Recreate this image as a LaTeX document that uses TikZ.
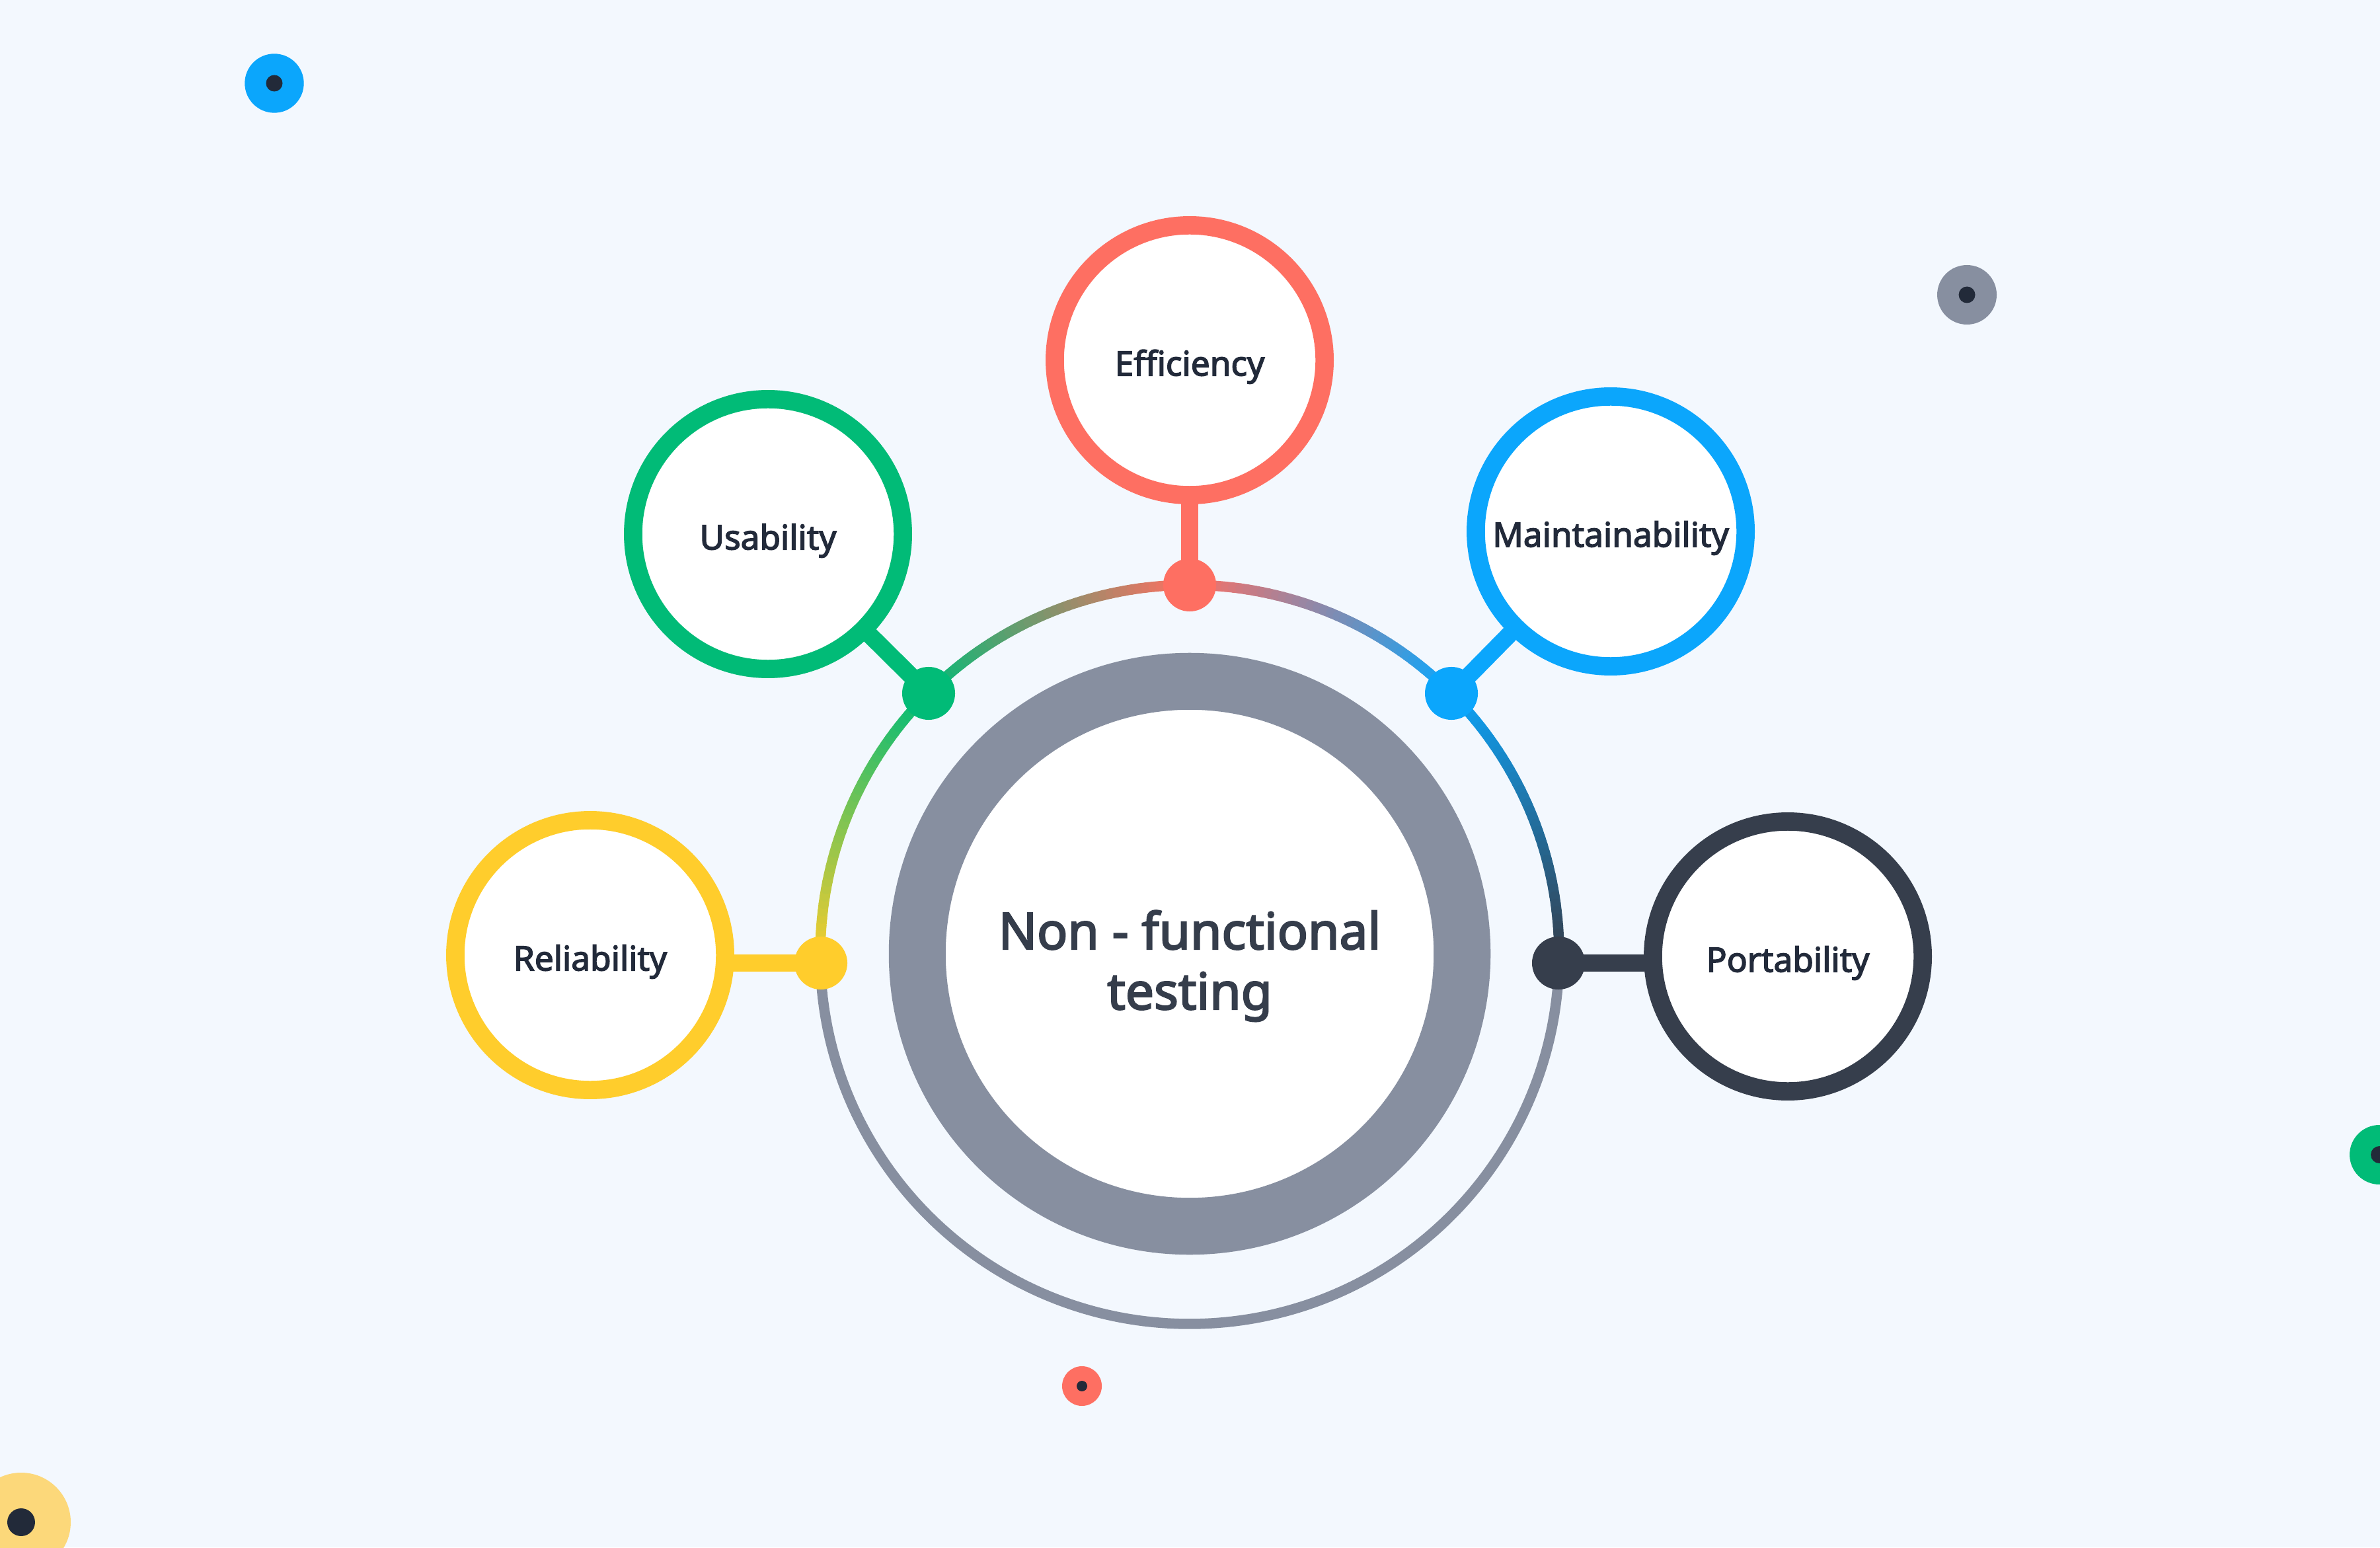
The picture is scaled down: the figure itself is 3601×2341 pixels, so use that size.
\documentclass[tikz,border=0pt]{standalone}
\usepackage{fontspec}
\setmainfont{Noto Sans}
\newfontfamily\labfont{Noto Sans}[FakeBold=2.8]
\newfontfamily\titfont{Noto Sans}[FakeBold=3.0]
\definecolor{bg}{HTML}{F3F8FE}
\definecolor{cgrey}{HTML}{878FA0}
\definecolor{cred}{HTML}{FE6F62}
\definecolor{cblu}{HTML}{0BA6FC}
\definecolor{cgrn}{HTML}{01BB77}
\definecolor{cyel}{HTML}{FFCD2C}
\definecolor{cdark}{HTML}{363E4C}
\definecolor{ctext}{HTML}{222A3A}
\definecolor{ctitle}{HTML}{353D4B}
\definecolor{cpale}{HTML}{FCD87A}
\definecolor{cdot}{HTML}{222A39}
\begin{document}
\begin{tikzpicture}[x=0.01cm,y=0.01cm,
  sat/.style={circle, draw=#1, line width=0.277cm, fill=white, minimum size=4.08cm,
    inner sep=0pt, font=\labfont\fontsize{14.6pt}{17pt}\selectfont, text=ctext,
    text height=0.466cm, text depth=0pt},
  dotn/.style={circle, fill=#1, minimum size=0.8cm, inner sep=0pt},
  conn/.style={line width=0.26cm, draw=#1, shorten >=-0.05cm, shorten <=-0.05cm},
  arcline/.style={line width=0.155cm, line cap=round},
  titletext/.style={font=\titfont\fontsize{21.8pt}{26pt}\selectfont, text=ctitle, anchor=base, inner sep=0pt}
]
\useasboundingbox (0,0) rectangle (3601,2341);
\clip (0,0) rectangle (3601,2341);
\fill[bg] (0,0) rectangle (3601,2341);

% outer arc: grey lower half
\draw[arcline, draw=cgrey] (1800,897) ++(181.4:559) arc[start angle=181.4, end angle=358.6, radius=559];
% outer arc: colour gradient upper half
\foreach \sa/\ea/\ca/\cb in {181.4/135/cyel/cgrn,135/90/cgrn/cred,90/45/cred/cblu,45/-1.4/cblu/cdark}{
  \foreach \i in {1,...,40}{
    \pgfmathsetmacro\aa{\sa+(\ea-\sa)*(\i-1)/40}
    \pgfmathsetmacro\bb{\sa+(\ea-\sa)*\i/40}
    \pgfmathsetmacro\p{100-100*(\i-0.5)/40}
    \draw[arcline, draw=\ca!\p!\cb] (1800,897) ++(\aa:559) arc[start angle=\aa, end angle=\bb, radius=559];
  }
}

% central ring
\node[circle, draw=cgrey, line width=0.86cm, fill=white, minimum size=8.24cm, inner sep=0pt] (main) at (1800,898) {};
\node[titletext] (t1) at (1800,905) {Non - functional};
\node[titletext] (t2) at (1800,814) {testing};

% satellites
\node[sat=cred]  (eff)  at (1800,1796) {Efficiency};
\node[sat=cgrn]  (use)  at (1162,1533) {Usability};
\node[sat=cblu]  (mnt)  at (2437,1537) {Maintainability};
\node[sat=cyel]  (rel)  at (893,896)   {Reliability};
\node[sat=cdark] (por)  at (2705,894)  {Portability};

% dots on the arc
\node[dotn=cred]  (edot) at (1800,1456) {};
\node[dotn=cgrn]  (udot) at (1405,1292) {};
\node[dotn=cblu]  (mdot) at (2196,1292) {};
\node[dotn=cyel]  (rdot) at (1242,884)  {};
\node[dotn=cdark] (pdot) at (2358,884)  {};

% connectors
\draw[conn=cred]  (edot) -- (edot |- eff.south);
\draw[conn=cgrn]  (udot) -- (use);
\draw[conn=cblu]  (mdot) -- (mnt);
\draw[conn=cyel]  (rdot) -- (rdot -| rel.east);
\draw[conn=cdark] (pdot) -- (pdot -| por.west);

% decorative dots
\fill[cblu]  (415,2215) circle[radius=44.7];
\fill[cdot]  (415,2215) circle[radius=12.5];
\fill[cgrey] (2976,1895) circle[radius=45];
\fill[cdot]  (2976,1895) circle[radius=12.5];
\fill[cred]  (1637,244) circle[radius=30];
\fill[cdot]  (1637,244) circle[radius=8];
\fill[cpale] (32,38) circle[radius=75];
\fill[cdot]  (32,38) circle[radius=21];
\fill[cgrn]  (3600,594) circle[radius=45];
\fill[cdot]  (3600,594) circle[radius=13];
\end{tikzpicture}
\end{document}
